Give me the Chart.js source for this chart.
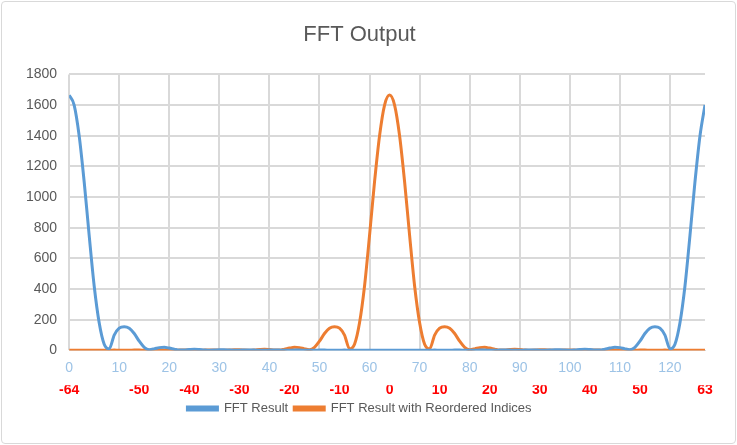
<!DOCTYPE html>
<html>
<head>
<meta charset="utf-8">
<script src="https://cdn.jsdelivr.net/npm/chart.js@4/dist/chart.umd.min.js"></script>
<style>
  html, body { margin: 0; padding: 0; background: #fff; }
  .wrap { position: absolute; left: 1px; top: 1px; width: 733px; height: 441px; border: 1px solid #d9d9d9; border-radius: 4px; }
</style>
</head>
<body>
<div class="wrap"><canvas id="c"></canvas></div>
<script>
const indices = Array.from({ length: 128 }, (_, i) => i);
const topTicks = [0, 10, 20, 30, 40, 50, 60, 70, 80, 90, 100, 110, 120];
const reorderedTicks = [-64, -50, -40, -30, -20, -10, 0, 10, 20, 30, 40, 50, 63];
const yTicks = [0, 200, 400, 600, 800, 1000, 1200, 1400, 1600, 1800];

const fftResult = [
  1665, 1600, 1400, 1100, 750, 420, 180, 40, 10, 100,
  145, 155, 145, 110, 60, 20, 5, 10, 18, 20,
  15, 8, 2, 3, 6, 8, 6, 3, 1, 2,
  4, 4, 2, 1, 1, 3, 3, 2, 1, 1,
  2, 3, 2, 1, 1, 2, 2, 1, 1, 1,
  2, 2, 1, 1, 1, 2, 1, 1, 1, 1,
  1, 1, 1, 1, 1, 1, 1, 1, 1, 1,
  1, 1, 1, 2, 1, 1, 1, 2, 2, 1,
  1, 1, 2, 2, 1, 1, 2, 3, 2, 1,
  1, 2, 3, 3, 1, 1, 2, 4, 4, 2,
  1, 3, 6, 8, 6, 3, 2, 8, 15, 20,
  18, 10, 5, 20, 60, 110, 145, 155, 145, 100,
  10, 40, 180, 420, 750, 1100, 1400, 1600
];

const fftReordered = [
  1, 1, 1, 1, 1, 1,
  1, 1, 1, 2, 1, 1, 1, 2, 2, 1,
  1, 1, 2, 2, 1, 1, 2, 3, 2, 1,
  1, 2, 3, 3, 1, 1, 2, 4, 4, 2,
  1, 3, 6, 8, 6, 3, 2, 8, 15, 20,
  18, 10, 5, 20, 60, 110, 145, 155, 145, 100,
  10, 40, 180, 420, 750, 1100, 1400, 1600,
  1665, 1600, 1400, 1100, 750, 420, 180, 40, 10, 100,
  145, 155, 145, 110, 60, 20, 5, 10, 18, 20,
  15, 8, 2, 3, 6, 8, 6, 3, 1, 2,
  4, 4, 2, 1, 1, 3, 3, 2, 1, 1,
  2, 3, 2, 1, 1, 2, 2, 1, 1, 1,
  2, 2, 1, 1, 1, 2, 1, 1, 1, 1,
  1, 1, 1, 1
];

const BLUE = '#5b9bd5';
const ORANGE = '#ed7d31';
const GRID = '#d9d9d9';
const FONT = '"Liberation Sans", Arial, sans-serif';

new Chart(document.getElementById('c'), {
  type: 'line',
  data: {
    datasets: [
      { label: 'FFT Result', data: indices.map(i => ({ x: i, y: fftResult[i] })), borderColor: BLUE, backgroundColor: BLUE, borderWidth: 3, pointRadius: 0, cubicInterpolationMode: 'monotone' },
      { label: 'FFT Result with Reordered Indices', data: indices.map(i => ({ x: i, y: fftReordered[i] })), borderColor: ORANGE, backgroundColor: ORANGE, borderWidth: 3, pointRadius: 0, cubicInterpolationMode: 'monotone' }
    ]
  },
  options: {
    responsive: true, maintainAspectRatio: false, animation: false,
    layout: { padding: { left: 12, right: 30, top: 8, bottom: 18 } },
    plugins: {
      title: { display: true, text: 'FFT Output', color: '#595959', font: { family: FONT, size: 22, weight: 'normal' }, padding: { top: 12, bottom: 26 } },
      legend: { position: 'bottom', labels: { color: '#595959', boxWidth: 30, boxHeight: 3, padding: 6, font: { family: FONT, size: 13 } } },
      tooltip: { enabled: false }
    },
    scales: {
      x: {
        type: 'linear', min: 0, max: 127,
        afterBuildTicks: s => { s.ticks = topTicks.map(v => ({ value: v })); },
        grid: { color: GRID, lineWidth: 2, drawTicks: false },
        border: { color: GRID },
        ticks: { color: '#9dc3e6', padding: 9, font: { size: 14, family: FONT }, callback: v => String(v) }
      },
      x2: {
        type: 'linear', position: 'bottom', min: 0, max: 127,
        afterBuildTicks: s => { s.ticks = reorderedTicks.map(v => ({ value: v + 64 })); },
        grid: { display: false, drawTicks: false },
        border: { display: false },
        ticks: { color: '#ff0000', padding: -3, autoSkip: false, maxRotation: 0, font: { size: 14, weight: 'bold', family: FONT }, callback: v => String(Math.round(v) - 64) }
      },
      y: {
        min: 0, max: 1800,
        afterBuildTicks: s => { s.ticks = yTicks.map(v => ({ value: v })); },
        grid: { color: GRID, lineWidth: 2, drawTicks: false },
        border: { display: false },
        ticks: { color: '#595959', padding: 12, font: { size: 14, family: FONT }, callback: v => String(v) }
      }
    }
  }
});
</script>
</body>
</html>
